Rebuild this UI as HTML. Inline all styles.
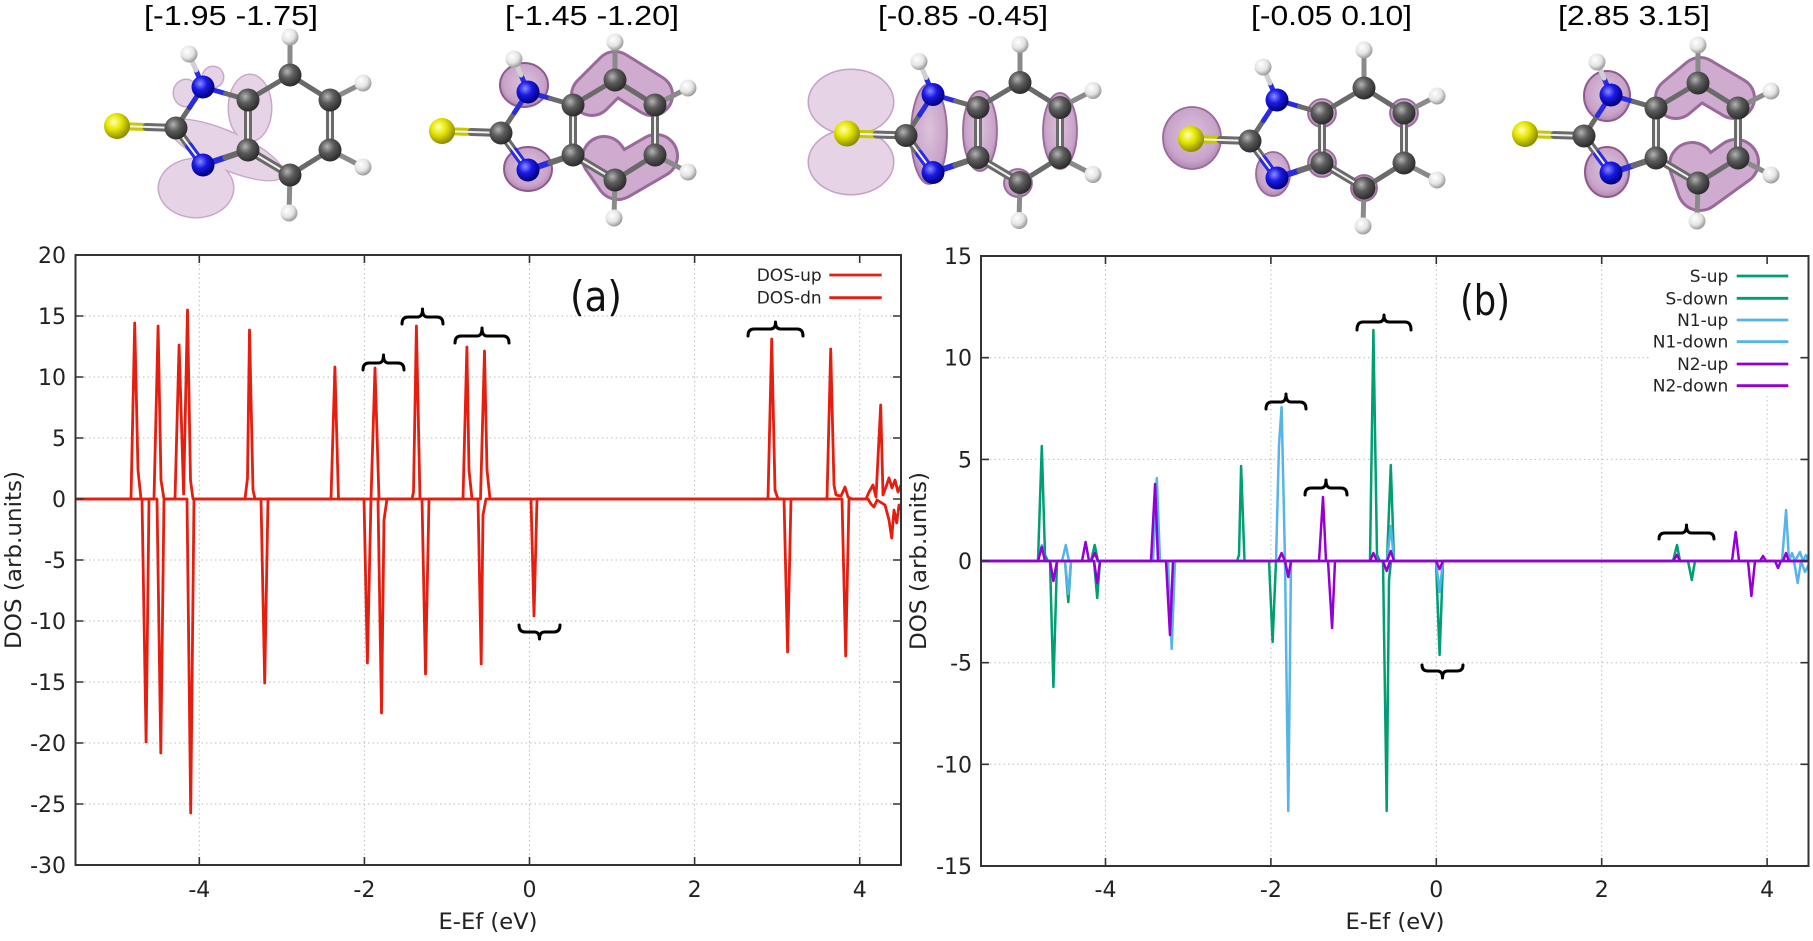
<!DOCTYPE html>
<html>
<head>
<meta charset="utf-8">
<style>
  html, body { margin: 0; padding: 0; background: #ffffff; }
  svg { display: block; }
</style>
</head>
<body>
<svg xmlns="http://www.w3.org/2000/svg" width="1813" height="941" viewBox="0 0 1813 941" font-family="'DejaVu Sans', 'Liberation Sans', sans-serif">
  <defs>
    <radialGradient id="gC" cx="38%" cy="35%" r="65%">
      <stop offset="0%" stop-color="#b4b4b4"/>
      <stop offset="45%" stop-color="#5c5c5c"/>
      <stop offset="100%" stop-color="#2c2c2c"/>
    </radialGradient>
    <radialGradient id="gN" cx="38%" cy="35%" r="65%">
      <stop offset="0%" stop-color="#8c8cff"/>
      <stop offset="45%" stop-color="#1a1ae6"/>
      <stop offset="100%" stop-color="#00007c"/>
    </radialGradient>
    <radialGradient id="gS" cx="38%" cy="35%" r="65%">
      <stop offset="0%" stop-color="#ffffb8"/>
      <stop offset="45%" stop-color="#e6e600"/>
      <stop offset="100%" stop-color="#8c8c00"/>
    </radialGradient>
    <radialGradient id="gH" cx="38%" cy="35%" r="65%">
      <stop offset="0%" stop-color="#ffffff"/>
      <stop offset="60%" stop-color="#e4e4e4"/>
      <stop offset="100%" stop-color="#9c9c9c"/>
    </radialGradient>
    <radialGradient id="gl" cx="50%" cy="45%" r="60%">
      <stop offset="0%" stop-color="#f2e8f2"/>
      <stop offset="70%" stop-color="#e3cfe3"/>
      <stop offset="100%" stop-color="#d4b8d4"/>
    </radialGradient>
    <radialGradient id="gd" cx="50%" cy="45%" r="60%">
      <stop offset="0%" stop-color="#dcc2dc"/>
      <stop offset="70%" stop-color="#c9a4c9"/>
      <stop offset="100%" stop-color="#a77aa7"/>
    </radialGradient>
    <g id="mol">
      <g stroke-linecap="round" fill="none">
        <line x1="117" y1="126" x2="146.5" y2="127" stroke="#c8c800" stroke-width="8"/>
        <line x1="146.5" y1="127" x2="176" y2="128" stroke="#6a6a6a" stroke-width="8"/>
        <line x1="124" y1="126.2" x2="170" y2="127.8" stroke="#f0f0f0" stroke-width="2"/>
        <line x1="176" y1="128" x2="189.5" y2="107.5" stroke="#6a6a6a" stroke-width="5"/>
        <line x1="189.5" y1="107.5" x2="203" y2="87" stroke="#2a2ae0" stroke-width="5"/>
        <line x1="176" y1="128" x2="189.5" y2="146.5" stroke="#6a6a6a" stroke-width="8"/>
        <line x1="189.5" y1="146.5" x2="203" y2="165" stroke="#2a2ae0" stroke-width="8"/>
        <line x1="181" y1="135" x2="198" y2="158" stroke="#f0f0f0" stroke-width="2"/>
        <line x1="203" y1="87" x2="225.5" y2="93.5" stroke="#2a2ae0" stroke-width="5"/>
        <line x1="225.5" y1="93.5" x2="248" y2="100" stroke="#6a6a6a" stroke-width="5"/>
        <line x1="203" y1="165" x2="225.5" y2="157.5" stroke="#2a2ae0" stroke-width="6"/>
        <line x1="225.5" y1="157.5" x2="248" y2="150" stroke="#6a6a6a" stroke-width="6"/>
        <line x1="248" y1="100" x2="248" y2="150" stroke="#6a6a6a" stroke-width="8"/>
        <line x1="248" y1="106" x2="248" y2="144" stroke="#f0f0f0" stroke-width="2"/>
        <line x1="248" y1="100" x2="290" y2="75" stroke="#6a6a6a" stroke-width="5"/>
        <line x1="290" y1="75" x2="330" y2="100" stroke="#6a6a6a" stroke-width="5"/>
        <line x1="330" y1="100" x2="330" y2="150" stroke="#6a6a6a" stroke-width="8"/>
        <line x1="330" y1="106" x2="330" y2="144" stroke="#f0f0f0" stroke-width="2"/>
        <line x1="330" y1="150" x2="290" y2="175" stroke="#6a6a6a" stroke-width="5"/>
        <line x1="290" y1="175" x2="248" y2="150" stroke="#6a6a6a" stroke-width="8"/>
        <line x1="284" y1="171.5" x2="254" y2="153.5" stroke="#f0f0f0" stroke-width="2"/>
        <line x1="203" y1="87" x2="196" y2="70" stroke="#2a2ae0" stroke-width="5"/>
        <line x1="196" y1="70" x2="189" y2="54" stroke="#d0d0d0" stroke-width="5"/>
        <line x1="290" y1="75" x2="290" y2="37" stroke="#8a8a8a" stroke-width="5"/>
        <line x1="330" y1="100" x2="363" y2="83" stroke="#8a8a8a" stroke-width="5"/>
        <line x1="330" y1="150" x2="363" y2="167" stroke="#8a8a8a" stroke-width="5"/>
        <line x1="290" y1="175" x2="289" y2="213" stroke="#8a8a8a" stroke-width="5"/>
      </g>
      <circle cx="117" cy="126" r="13" fill="url(#gS)"/>
      <circle cx="176" cy="128" r="11.5" fill="url(#gC)"/>
      <circle cx="203" cy="87" r="11.5" fill="url(#gN)"/>
      <circle cx="203" cy="165" r="11.5" fill="url(#gN)"/>
      <circle cx="248" cy="100" r="11.5" fill="url(#gC)"/>
      <circle cx="248" cy="150" r="11.5" fill="url(#gC)"/>
      <circle cx="290" cy="75" r="11.5" fill="url(#gC)"/>
      <circle cx="330" cy="100" r="11.5" fill="url(#gC)"/>
      <circle cx="330" cy="150" r="11.5" fill="url(#gC)"/>
      <circle cx="290" cy="175" r="11.5" fill="url(#gC)"/>
      <circle cx="189" cy="54" r="8.5" fill="url(#gH)"/>
      <circle cx="290" cy="37" r="8.5" fill="url(#gH)"/>
      <circle cx="363" cy="83" r="8.5" fill="url(#gH)"/>
      <circle cx="363" cy="167" r="8.5" fill="url(#gH)"/>
      <circle cx="289" cy="213" r="8.5" fill="url(#gH)"/>
    </g>
  </defs>

  <rect x="0" y="0" width="1813" height="941" fill="#ffffff"/>

  <!-- ===== Titles ===== -->
  <g font-family="'Liberation Sans', sans-serif" font-size="28" fill="#000" text-anchor="middle">
    <text x="231" y="25" textLength="174" lengthAdjust="spacingAndGlyphs">[-1.95 -1.75]</text>
    <text x="592" y="25" textLength="174" lengthAdjust="spacingAndGlyphs">[-1.45 -1.20]</text>
    <text x="963" y="25" textLength="170" lengthAdjust="spacingAndGlyphs">[-0.85 -0.45]</text>
    <text x="1331.5" y="25" textLength="161" lengthAdjust="spacingAndGlyphs">[-0.05 0.10]</text>
    <text x="1634" y="25" textLength="152" lengthAdjust="spacingAndGlyphs">[2.85 3.15]</text>
  </g>

  <!-- ===== Molecule 1 lobes (light) ===== -->
  <g fill="#c9a8c9">
    <ellipse cx="196" cy="188" rx="38.5" ry="30.5"/>
    <ellipse cx="226" cy="150" rx="63.5" ry="19.5" transform="rotate(24 226 150)"/>
    <ellipse cx="186" cy="93" rx="13.5" ry="14.5"/>
    <ellipse cx="213" cy="77" rx="11.5" ry="11.5"/>
    <ellipse cx="250" cy="108" rx="22.5" ry="34.5"/>
  </g>
  <g fill="#e6d4e6">
    <ellipse cx="196" cy="188" rx="37" ry="29"/>
    <ellipse cx="226" cy="150" rx="62" ry="18" transform="rotate(24 226 150)"/>
    <ellipse cx="186" cy="93" rx="12" ry="13"/>
    <ellipse cx="213" cy="77" rx="10" ry="10"/>
    <ellipse cx="250" cy="108" rx="21" ry="33"/>
  </g>
  <use href="#mol"/>

  <!-- ===== Molecule 2 lobes (dark) ===== -->
  <g fill="url(#gd)" stroke="#8e5a8e" stroke-width="2">
    <ellipse cx="524" cy="85" rx="24" ry="22"/>
    <ellipse cx="528" cy="169" rx="24" ry="22"/>
  </g>
  <g fill="none" stroke-linecap="round" stroke-linejoin="round">
    <polyline points="592,95 615,72 652,95" stroke="#9a6a9a" stroke-width="44"/>
    <polyline points="592,95 615,72 652,95" stroke="#cfaccf" stroke-width="38"/>
    <polyline points="604,158 618,178 656,156" stroke="#9a6a9a" stroke-width="46"/>
    <polyline points="604,158 618,178 656,156" stroke="#cfaccf" stroke-width="40"/>
  </g>
  <use href="#mol" transform="translate(325,5)"/>

  <!-- ===== Molecule 3 lobes ===== -->
  <g fill="#c4a2c4">
    <ellipse cx="851" cy="102" rx="43.5" ry="33.5"/>
    <ellipse cx="851" cy="162" rx="43.5" ry="33.5"/>
  </g>
  <g fill="#e6d3e6">
    <ellipse cx="851" cy="102" rx="42" ry="32"/>
    <ellipse cx="851" cy="162" rx="42" ry="32"/>
  </g>
  <g fill="url(#gd)" stroke="#9a6a9a" stroke-width="1.8">
    <ellipse cx="929" cy="134" rx="18" ry="50"/>
    <ellipse cx="980" cy="131" rx="17" ry="40"/>
    <ellipse cx="1060" cy="131" rx="17" ry="38"/>
    <circle cx="1018" cy="183" r="14"/>
  </g>
  <use href="#mol" transform="translate(730,7.5)"/>

  <!-- ===== Molecule 4 lobes ===== -->
  <g fill="url(#gd)" stroke="#9a6a9a" stroke-width="1.8">
    <ellipse cx="1192" cy="138" rx="29" ry="31"/>
    <ellipse cx="1273" cy="174" rx="17" ry="22"/>
    <circle cx="1322" cy="113" r="14"/>
    <circle cx="1322" cy="163" r="14"/>
    <circle cx="1404" cy="113" r="14"/>
    <circle cx="1364" cy="188" r="13"/>
  </g>
  <use href="#mol" transform="translate(1074,13)"/>

  <!-- ===== Molecule 5 lobes ===== -->
  <g fill="url(#gd)" stroke="#8e5a8e" stroke-width="2">
    <ellipse cx="1607" cy="96" rx="23" ry="25"/>
    <ellipse cx="1607" cy="172" rx="22" ry="25"/>
  </g>
  <g fill="none" stroke-linecap="round" stroke-linejoin="round">
    <polyline points="1676,98 1700,78 1734,98" stroke="#9a6a9a" stroke-width="44"/>
    <polyline points="1676,98 1700,78 1734,98" stroke="#cfaccf" stroke-width="38"/>
    <polyline points="1692,165 1700,188 1736,162" stroke="#9a6a9a" stroke-width="48"/>
    <polyline points="1692,165 1700,188 1736,162" stroke="#cfaccf" stroke-width="42"/>
  </g>
  <use href="#mol" transform="translate(1408,8)"/>

  <!-- ===================== PLOT (a) ===================== -->
  <g stroke="#bdbdbd" stroke-width="1" stroke-dasharray="1.5 3" fill="none">
    <path d="M199.3 255V865M364.4 255V865M529.5 255V865M694.6 255V865M859.7 255V865"/>
    <path d="M75.5 316H901M75.5 377H901M75.5 438H901M75.5 560H901M75.5 621H901M75.5 682H901M75.5 743H901M75.5 804H901"/>
  </g>
  <rect x="750" y="262" width="143" height="45" fill="#ffffff"/>

  <g fill="none" stroke="#e51e10" stroke-width="2.8" stroke-linejoin="round">
    <path d="M75.5 499 L131 499 L134.7 323 L138 470 L141 499 L154 499 L158.1 326 L161 480 L164 499 L175 499 L179.1 345 L183.6 494 L187.5 310 L190.5 480 L193 499 L245 499 L247.5 478 L249.5 330 L253 490 L255 499 L331 499 L334.9 367 L338.5 499 L371 499 L375 368 L379 499 L412 499 L413.5 492 L416.4 326 L420 499 L463 499 L466.9 347 L469 470 L472 499 L480.5 499 L484.5 351 L487 470 L490 499 L768 499 L771.7 339 L775 490 L778 499 L827 499 L830.7 349 L834 485 L836 495 L841 496 L845 487 L848 497 L852 499 L866 499 L869 492 L873 485 L876 497 L880.7 405 L883 495 L886 487 L889 478 L892 488 L895 480 L898 492 L901 485"/>
    <path d="M75.5 499 L142 499 L146.1 742 L149 499 L157 499 L160.8 753 L164 499 L187 499 L190.7 813 L194 499 L261 499 L264.7 683 L268 499 L364 499 L367.4 663 L371 499 L378 499 L381.5 713 L384 520 L387 499 L422 499 L425.5 674 L429 499 L478 499 L481.2 664 L483 515 L486 499 L531 499 L534 616 L537 499 L784 499 L787.6 652 L791 499 L842 499 L845.7 656 L849 499 L868 499 L871 504 L874 507 L877 500 L885 505 L889 520 L891.7 538 L894 510 L896.7 523 L899 505 L901 510"/>
  </g>

  <rect x="75.5" y="255" width="825.5" height="610" fill="none" stroke="#333" stroke-width="2"/>
  <path stroke="#333" stroke-width="1.6" fill="none" d="M199.3 865V857M364.4 865V857M529.5 865V857M694.6 865V857M859.7 865V857M199.3 255V263M364.4 255V263M529.5 255V263M694.6 255V263M859.7 255V263M75.5 316H83.5M75.5 377H83.5M75.5 438H83.5M75.5 499H83.5M75.5 560H83.5M75.5 621H83.5M75.5 682H83.5M75.5 743H83.5M75.5 804H83.5M901 316H893M901 377H893M901 438H893M901 499H893M901 560H893M901 621H893M901 682H893M901 743H893M901 804H893"/>

  <g font-size="22" fill="#222" text-anchor="end">
    <text x="66" y="263">20</text>
    <text x="66" y="324">15</text>
    <text x="66" y="385">10</text>
    <text x="66" y="446">5</text>
    <text x="66" y="507">0</text>
    <text x="66" y="568">-5</text>
    <text x="66" y="629">-10</text>
    <text x="66" y="690">-15</text>
    <text x="66" y="751">-20</text>
    <text x="66" y="812">-25</text>
    <text x="66" y="873">-30</text>
  </g>
  <g font-size="22" fill="#222" text-anchor="middle">
    <text x="199.3" y="897">-4</text>
    <text x="364.4" y="897">-2</text>
    <text x="529.5" y="897">0</text>
    <text x="694.6" y="897">2</text>
    <text x="859.7" y="897">4</text>
    <text x="488" y="929" textLength="99" lengthAdjust="spacingAndGlyphs">E-Ef (eV)</text>
  </g>
  <text transform="translate(21,560) rotate(-90)" font-size="22" fill="#222" text-anchor="middle" textLength="178" lengthAdjust="spacingAndGlyphs">DOS (arb.units)</text>

  <text x="596" y="311" font-size="42" fill="#111" text-anchor="middle" textLength="52" lengthAdjust="spacingAndGlyphs">(a)</text>

  <g font-size="17" fill="#222" text-anchor="end">
    <text x="821.7" y="281">DOS-up</text>
    <text x="821.7" y="303.7">DOS-dn</text>
  </g>
  <path d="M829.3 275H881.7M829.3 297.7H881.7" stroke="#e51e10" stroke-width="2.8"/>

  <g fill="none" stroke="#000" stroke-width="3" stroke-linecap="round" stroke-linejoin="round">
    <path d="M363 370 Q363 363 369 363 L378.5 363 Q383.5 363 383.5 355 Q383.5 363 388.5 363 L398 363 Q404 363 404 370"/>
    <path d="M402 324 Q402 317 408 317 L417.5 317 Q422.5 317 422.5 309 Q422.5 317 427.5 317 L437 317 Q443 317 443 324"/>
    <path d="M455 343 Q455 336 461 336 L477 336 Q482 336 482 328 Q482 336 487 336 L503 336 Q509 336 509 343"/>
    <path d="M748 336 Q748 329 754 329 L770.5 329 Q775.5 329 775.5 322 Q775.5 329 780.5 329 L797 329 Q803 329 803 336"/>
    <path d="M519 625 Q519 632 525 632 L534.5 632 Q539.5 632 539.5 639 Q539.5 632 544.5 632 L554 632 Q560 632 560 625"/>
  </g>

  <!-- ===================== PLOT (b) ===================== -->
  <g stroke="#bdbdbd" stroke-width="1" stroke-dasharray="1.5 3" fill="none">
    <path d="M1105.5 256V866M1270.9 256V866M1436.3 256V866M1601.7 256V866M1767.1 256V866"/>
    <path d="M981 357.7H1808.5M981 459.4H1808.5M981 662.7H1808.5M981 764.3H1808.5"/>
  </g>
  <rect x="1650" y="263" width="150" height="133" fill="#ffffff"/>

  <g fill="none" stroke-width="2.5" stroke-linejoin="round">
    <path stroke="#009e73" d="M981 561 L1038 561 L1041.8 446 L1045 555 L1048 561 L1091 561 L1094.7 545 L1098 561 L1237 561 L1239 555 L1241.1 466 L1244.5 561 L1370 561 L1373.4 330 L1377 555 L1380 561 L1387 561 L1390.8 465 L1394 561 L1673 561 L1677 545 L1680 561 L1808.5 561"/>
    <path stroke="#009e73" d="M981 561 L1050 561 L1053.4 687 L1057 561 L1065 561 L1068.3 602 L1071 561 L1094 561 L1097.2 598 L1100 561 L1269 561 L1272.6 642 L1276 561 L1383 561 L1386.7 811 L1389 580 L1391 561 L1436 561 L1439.6 655 L1443 561 L1688 561 L1691.8 580 L1695 561 L1808.5 561"/>
    <path stroke="#56b4e9" d="M981 561 L1038 561 L1041.8 545 L1045 561 L1062 561 L1065.8 545 L1069 561 L1153 561 L1156.8 478 L1160 561 L1276 561 L1279 445 L1281.6 407 L1285 561 L1387 561 L1390.8 526 L1394 561 L1782 561 L1786.1 510 L1789 561 L1792 553 L1795 561 L1800 552 L1803 561 L1806 555 L1808.5 561"/>
    <path stroke="#56b4e9" d="M981 561 L1065 561 L1068.3 594 L1071 561 L1168 561 L1171.7 649 L1175 561 L1285 561 L1288.3 811 L1291 561 L1436 561 L1439.6 592 L1443 561 L1794 561 L1797.7 583 L1801 561 L1805 572 L1808.5 565"/>
    <path stroke="#9400d3" d="M981 561 L1038 561 L1041.8 547 L1045 561 L1082 561 L1085.6 542 L1089 561 L1091 561 L1094.7 553 L1098 561 L1151 561 L1155.1 484 L1158 561 L1278 561 L1281.6 553 L1285 561 L1319 561 L1323 497 L1326 561 L1370 561 L1373.4 553 L1377 561 L1387 561 L1390.8 551 L1394 561 L1673 561 L1677 555 L1680 561 L1732 561 L1735.7 532 L1739 561 L1760 561 L1763 556 L1766 561 L1783 561 L1786 553 L1789 561 L1808.5 561"/>
    <path stroke="#9400d3" d="M981 561 L1050 561 L1053.4 581 L1057 561 L1094 561 L1097.2 583 L1100 561 L1166 561 L1170 635 L1173 561 L1285 561 L1288.3 577 L1291 561 L1328 561 L1332.1 628 L1335 561 L1383 561 L1386.7 571 L1390 561 L1436 561 L1439.6 569 L1443 561 L1748 561 L1751.4 596 L1755 561 L1775 561 L1778 568 L1781 561 L1808.5 561"/>
  </g>

  <rect x="981" y="256" width="827.5" height="610" fill="none" stroke="#333" stroke-width="2"/>
  <path stroke="#333" stroke-width="1.6" fill="none" d="M1105.5 866V858M1270.9 866V858M1436.3 866V858M1601.7 866V858M1767.1 866V858M1105.5 256V264M1270.9 256V264M1436.3 256V264M1601.7 256V264M1767.1 256V264M981 357.7H989M981 459.4H989M981 561H989M981 662.7H989M981 764.3H989M1808.5 357.7H1800.5M1808.5 459.4H1800.5M1808.5 561H1800.5M1808.5 662.7H1800.5M1808.5 764.3H1800.5"/>

  <g font-size="22" fill="#222" text-anchor="end">
    <text x="972" y="264">15</text>
    <text x="972" y="365.7">10</text>
    <text x="972" y="467.4">5</text>
    <text x="972" y="569">0</text>
    <text x="972" y="670.7">-5</text>
    <text x="972" y="772.3">-10</text>
    <text x="972" y="874">-15</text>
  </g>
  <g font-size="22" fill="#222" text-anchor="middle">
    <text x="1105.5" y="897">-4</text>
    <text x="1270.9" y="897">-2</text>
    <text x="1436.3" y="897">0</text>
    <text x="1601.7" y="897">2</text>
    <text x="1767.1" y="897">4</text>
    <text x="1395" y="929" textLength="99" lengthAdjust="spacingAndGlyphs">E-Ef (eV)</text>
  </g>
  <text transform="translate(926,561) rotate(-90)" font-size="22" fill="#222" text-anchor="middle" textLength="178" lengthAdjust="spacingAndGlyphs">DOS (arb.units)</text>

  <text x="1485" y="315" font-size="42" fill="#111" text-anchor="middle" textLength="50" lengthAdjust="spacingAndGlyphs">(b)</text>

  <g font-size="17" fill="#222" text-anchor="end">
    <text x="1728.3" y="282">S-up</text>
    <text x="1728.3" y="304.3">S-down</text>
    <text x="1728.3" y="326">N1-up</text>
    <text x="1728.3" y="347.7">N1-down</text>
    <text x="1728.3" y="370">N2-up</text>
    <text x="1728.3" y="391.7">N2-down</text>
  </g>
  <g stroke-width="2.8">
    <path d="M1736.7 276H1788.3M1736.7 298.3H1788.3" stroke="#009e73"/>
    <path d="M1736.7 320H1788.3M1736.7 341.7H1788.3" stroke="#56b4e9"/>
    <path d="M1736.7 364H1788.3M1736.7 385.7H1788.3" stroke="#9400d3"/>
  </g>

  <g fill="none" stroke="#000" stroke-width="3" stroke-linecap="round" stroke-linejoin="round">
    <path d="M1266 409 Q1266 402 1272 402 L1281 402 Q1286 402 1286 394 Q1286 402 1291 402 L1300 402 Q1306 402 1306 409"/>
    <path d="M1305 495 Q1305 488 1311 488 L1321 488 Q1326 488 1326 480 Q1326 488 1331 488 L1341 488 Q1347 488 1347 495"/>
    <path d="M1357 330 Q1357 322 1363 322 L1379 322 Q1384 322 1384 315 Q1384 322 1389 322 L1405 322 Q1411 322 1411 330"/>
    <path d="M1659 539 Q1659 533 1665 533 L1681.5 533 Q1686.5 533 1686.5 525 Q1686.5 533 1691.5 533 L1708 533 Q1714 533 1714 539"/>
    <path d="M1422 665 Q1422 671 1428 671 L1437.5 671 Q1442.5 671 1442.5 678 Q1442.5 671 1447.5 671 L1457 671 Q1463 671 1463 665"/>
  </g>
</svg>
</body>
</html>
